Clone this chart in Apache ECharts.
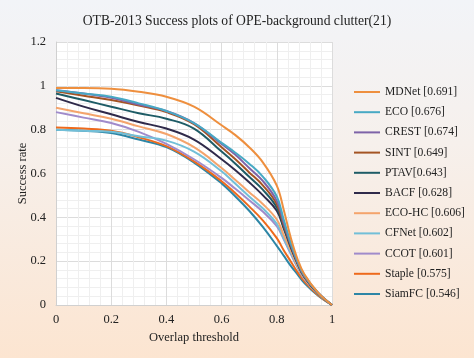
<!DOCTYPE html>
<html>
<head>
<meta charset="utf-8">
<script src="https://cdn.jsdelivr.net/npm/echarts@6/dist/echarts.min.js"></script>
<style>
html,body{margin:0;padding:0;}
body{width:474px;height:358px;background:linear-gradient(180deg,#f2f4f8 0%,#f6f0ec 40%,#fce5d1 100%);}
#c{width:474px;height:358px;}
</style>
</head>
<body>
<div id="c"></div>
<script>
const thresholds = [0,0.1,0.2,0.3,0.4,0.5,0.6,0.65,0.7,0.75,0.8,0.825,0.85,0.875,0.9,0.95,1];
const names = ['MDNet [0.691]','ECO [0.676]','CREST [0.674]','SINT [0.649]','PTAV[0.643]','BACF [0.628]','ECO-HC [0.606]','CFNet [0.602]','CCOT [0.601]','Staple [0.575]','SiamFC [0.546]'];
const colors = ['#ee8f3e','#47a9c4','#7e63a8','#a45423','#1e5c66','#2f2a4a','#f4a46c','#72bfd8','#a08bcb','#ee6a1c','#2d86a6'];
const MDNet  = [0.99,0.99,0.987,0.973,0.95,0.905,0.82,0.775,0.72,0.65,0.545,0.435,0.31,0.21,0.14,0.055,0];
const ECO    = [0.98,0.965,0.95,0.92,0.885,0.83,0.74,0.695,0.645,0.585,0.495,0.39,0.285,0.20,0.135,0.055,0];
const CREST  = [0.98,0.965,0.945,0.915,0.885,0.83,0.735,0.685,0.625,0.565,0.475,0.375,0.28,0.195,0.132,0.055,0];
const SINT   = [0.975,0.955,0.935,0.91,0.88,0.825,0.72,0.665,0.605,0.545,0.46,0.365,0.275,0.195,0.13,0.055,0];
const PTAV   = [0.965,0.935,0.905,0.875,0.85,0.805,0.70,0.645,0.585,0.525,0.445,0.355,0.27,0.19,0.128,0.052,0];
const BACF   = [0.945,0.905,0.87,0.835,0.805,0.755,0.665,0.615,0.56,0.50,0.43,0.35,0.265,0.19,0.128,0.052,0];
const ECOHC  = [0.90,0.875,0.85,0.815,0.78,0.72,0.625,0.57,0.515,0.46,0.39,0.32,0.25,0.18,0.122,0.05,0];
const CFNet  = [0.80,0.795,0.79,0.77,0.75,0.70,0.61,0.553,0.495,0.44,0.37,0.305,0.24,0.175,0.12,0.05,0];
const CCOT   = [0.88,0.855,0.83,0.79,0.735,0.665,0.58,0.53,0.478,0.425,0.36,0.30,0.235,0.172,0.118,0.05,0];
const Staple = [0.81,0.805,0.795,0.765,0.725,0.655,0.565,0.51,0.45,0.385,0.305,0.25,0.20,0.15,0.108,0.045,0];
const SiamFC = [0.80,0.795,0.785,0.755,0.72,0.65,0.555,0.495,0.43,0.355,0.27,0.225,0.18,0.14,0.10,0.042,0];
const seriesValues = [MDNet,ECO,CREST,SINT,PTAV,BACF,ECOHC,CFNet,CCOT,Staple,SiamFC];

const font = '"Liberation Serif","Times New Roman",serif';
const chart = echarts.init(document.getElementById('c'));
chart.setOption({
  backgroundColor: 'transparent',
  title: {
    text: 'OTB-2013 Success plots of OPE-background clutter(21)',
    left: 'center', top: 9,
    textStyle: {fontFamily: font, fontSize: 13.6, fontWeight: 'normal', color: '#222'}
  },
  legend: {
    orient: 'vertical', left: 349, top: 80,
    itemWidth: 26, itemHeight: 14, itemGap: 6.2,
    icon: 'path://M0,0 M26,14 M0,6 L26,6 L26,8 L0,8 Z',
    textStyle: {fontFamily: font, fontSize: 11.6, color: '#222'},
    data: names
  },
  grid: {left: 56, right: 142, top: 42, bottom: 53, show: true, backgroundColor: '#ffffff', borderWidth: 0},
  xAxis: {
    type: 'value', min: 0, max: 1, interval: 0.2,
    name: 'Overlap threshold', nameLocation: 'middle', nameGap: 23,
    nameTextStyle: {fontFamily: font, fontSize: 12.5, color: '#222'},
    axisLine: {show: true, lineStyle: {color: '#d0d0d0'}},
    axisTick: {show: false},
    axisLabel: {fontFamily: font, fontSize: 12.5, color: '#222', margin: 8},
    splitLine: {show: true, lineStyle: {color: '#dcdcdc'}},
    minorTick: {show: false, splitNumber: 5},
    minorSplitLine: {show: true, lineStyle: {color: '#efefef'}}
  },
  yAxis: {
    type: 'value', min: 0, max: 1.2, interval: 0.2,
    name: 'Success rate', nameLocation: 'middle', nameGap: 27, nameMoveOverlap: false,
    nameTextStyle: {fontFamily: font, fontSize: 12.5, color: '#222'},
    axisLine: {show: true, lineStyle: {color: '#d0d0d0'}},
    axisTick: {show: false},
    axisLabel: {fontFamily: font, fontSize: 12.5, color: '#222', margin: 10},
    splitLine: {show: true, lineStyle: {color: '#dcdcdc'}},
    minorTick: {show: false, splitNumber: 5},
    minorSplitLine: {show: true, lineStyle: {color: '#efefef'}}
  },
  series: names.map((n, i) => ({
    name: n, type: 'line', smooth: 0.4, symbol: 'none',
    lineStyle: {width: 2, color: colors[i]}, itemStyle: {color: colors[i]},
    data: thresholds.map((t, j) => [t, seriesValues[i][j]])
  })).reverse()
});
</script>
</body>
</html>
